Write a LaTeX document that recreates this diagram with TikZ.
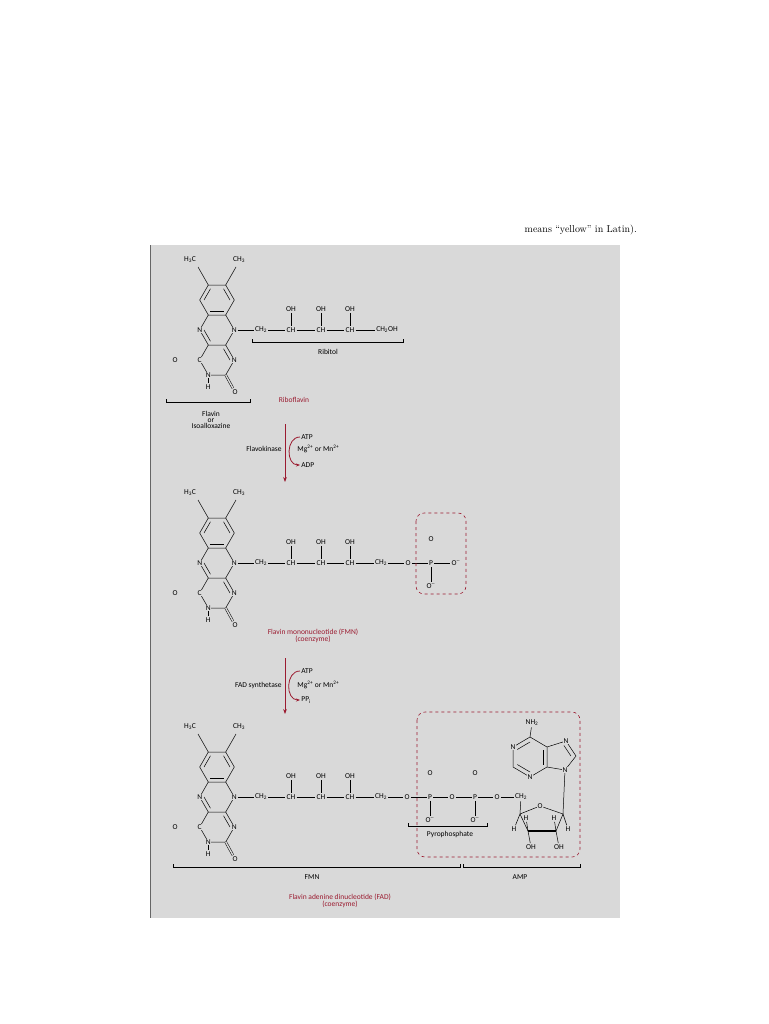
\documentclass[tikz,border=0pt]{standalone}
\usepackage{fontspec}
\newfontfamily\labfont{Carlito}
\usetikzlibrary{calc,arrows.meta}
\definecolor{panel}{HTML}{D9D9D9}
\definecolor{dred}{HTML}{9B1B30}
\tikzset{
 lab/.style={font=\labfont\fontsize{7.5}{8}\selectfont,inner sep=1.2pt},
 atom/.style={lab,fill=panel,inner sep=0.6pt},
 redlab/.style={lab,text=dred},
 bd/.style={line width=0.5pt},
 dbl/.style={line width=0.5pt,double=panel,double distance=1.4pt},
 brk/.style={line width=0.5pt},
 rbox/.style={draw=dred,dashed,rounded corners=8pt,line width=0.6pt},
 rarr/.style={draw=dred,line width=0.8pt,-{Stealth[length=5pt]}},
}
\newcommand{\flavinring}[3]{%
\begin{scope}[shift={(#2,#3)}]
 \coordinate (#1a1) at (-8.7,-15); \coordinate (#1a2) at (8.7,-15);
 \coordinate (#1a3) at (17.3,0); \coordinate (#1a4) at (8.7,15);
 \coordinate (#1a5) at (-8.7,15); \coordinate (#1a6) at (-17.3,0);
 \coordinate (#1b6) at (-17.3,30); \coordinate (#1b3) at (17.3,30);
 \coordinate (#1b5) at (-8.7,45); \coordinate (#1b4) at (8.7,45);
 \coordinate (#1c6) at (-17.3,60); \coordinate (#1c3) at (17.3,60);
 \coordinate (#1c5) at (-8.7,75); \coordinate (#1c4) at (8.7,75);
 \coordinate (#1o1) at (0,0); \coordinate (#1o2) at (0,30); \coordinate (#1o3) at (0,60);
 \draw[bd] (#1a1)--(#1a2)--(#1a3)--(#1a4)--(#1a5)--(#1a6)--cycle;
 \draw[bd] (#1a4)--(#1b3)--(#1b4)--(#1b5)--(#1b6)--(#1a5);
 \draw[bd] (#1b4)--(#1c3)--(#1c4)--(#1c5)--(#1c6)--(#1b5);
 \foreach \p/\q/\o in {a6/a1/o1,a2/a3/o1,a4/a5/o1,b6/b5/o2,b4/c3/o3}
   \draw[bd] ($(#1\o)!0.75!(#1\p)$)--($(#1\o)!0.75!(#1\q)$);
 \draw[bd] (#1a1)--(-19,-33); \draw[bd] (#1a2)--(19,-33);
 \node[lab] (#1me1) at (-27,-40) {H\textsubscript{3}C};
 \node[lab] (#1me2) at (22,-40) {CH\textsubscript{3}};
 \node[atom] (#1nl) at (#1b6) {N};
 \node[atom] (#1N) at (#1b3) {N};
 \node[atom] (#1n1) at (#1c3) {N};
 \node[atom] (#1cc) at (#1c6) {C};
 \node[atom] (#1nh) at (#1c5) {N};
 \node[lab] (#1h) at (-8.7,87) {H};
 \node[lab] (#1o6) at (-42,60) {O};
 \node[lab] (#1o4) at (18,92) {O};
 \draw[bd] (#1nh)--(#1h);
 \draw[dbl] (#1cc)--(#1o6);
 \draw[dbl] (#1c4)--(#1o4);
\end{scope}}
\newcommand{\ribitol}[2]{% prefix, row y
 \node[lab] (#1c1) at (261,#2) {CH\textsubscript{2}};
 \node[lab] (#1c2) at (291,#2) {CH};
 \node[lab] (#1c3) at (321,#2) {CH};
 \node[lab] (#1c4) at (350,#2) {CH};
 \node[lab] (#1h2) at (291,#2-21) {OH};
 \node[lab] (#1h3) at (321,#2-21) {OH};
 \node[lab] (#1h4) at (350,#2-21) {OH};
 \draw[bd] (#1N)--(#1c1)--(#1c2)--(#1c3)--(#1c4);
 \foreach \i in {2,3,4} \draw[bd] (#1h\i)--(#1c\i);}
\begin{document}
\begin{tikzpicture}[x=1pt,y=-1pt]
\useasboundingbox (0,0) rectangle (768,1024);
\fill[white] (0,0) rectangle (768,1024);
\node[anchor=east,inner sep=0,font=\fontsize{10}{12}\selectfont] (intro) at (637,230) {means ``yellow'' in Latin).};
\fill[panel] (150,245) rectangle (620,918);
\draw[black!60,line width=0.6pt] (150.3,245) -- (150.3,918);
% ---------- Riboflavin
\flavinring{r}{217}{300}
\ribitol{r}{330}
\node[lab] (rc5) at (387,330) {CH\textsubscript{2}OH};
\draw[bd] (rc4)--(rc5);
\draw[brk] (252,339)--(252,342)--(403,342)--(403,339);
\node[lab] (ribitol) at (328,352) {Ribitol};
\draw[brk] (166,399)--(166,402)--(250,402)--(250,399);
\node[lab,align=center] (flavin) at (211,420) {Flavin\\[-2pt]or\\[-2pt]Isoalloxazine};
\node[redlab] (riboflavin) at (294,400) {Riboflavin};
% ---------- arrow 1
\coordinate (a1s) at (285,424); \coordinate (a1e) at (285,482);
\draw[rarr] (a1s)--(a1e);
\node[lab,anchor=west] (atp1) at (300,437) {ATP};
\node[lab,anchor=west] (mg1) at (296,449) {Mg\textsuperscript{2+} or Mn\textsuperscript{2+}};
\node[lab,anchor=west] (adp1) at (300,465) {ADP};
\node[lab,anchor=east] (fk) at (283,449) {Flavokinase};
\draw[draw=dred,line width=0.8pt,-{Stealth[length=4pt]}] (atp1.west) to[out=180,in=180,looseness=1.3] (adp1.west);
% ---------- FMN
\flavinring{m}{217}{533}
\ribitol{m}{563}
\node[lab] (mc5) at (381,563) {CH\textsubscript{2}};
\node[lab] (mo) at (408,563) {O};
\node[lab] (mp) at (431,563) {P};
\node[lab] (mom) at (456,563) {O\textsuperscript{--}};
\node[lab] (mou) at (431,539) {O};
\node[lab] (mod) at (431,586) {O\textsuperscript{--}};
\draw[bd] (mc4)--(mc5)--(mo)--(mp)--(mom);
\draw[dbl] (mp)--(mou); \draw[bd] (mp)--(mod);
\draw[rbox] (416,513) rectangle (466,594);
\node[redlab,align=center] (fmnlab) at (313,636) {Flavin mononucleotide (FMN)\\[-1pt](coenzyme)};
% ---------- arrow 2
\coordinate (a2s) at (285,658); \coordinate (a2e) at (285,714);
\draw[rarr] (a2s)--(a2e);
\node[lab,anchor=west] (atp2) at (300,671) {ATP};
\node[lab,anchor=west] (mg2) at (296,685) {Mg\textsuperscript{2+} or Mn\textsuperscript{2+}};
\node[lab,anchor=west] (ppi) at (300,700) {PP\textsubscript{i}};
\node[lab,anchor=east] (fs) at (283,685) {FAD synthetase};
\draw[draw=dred,line width=0.8pt,-{Stealth[length=4pt]}] (atp2.west) to[out=180,in=180,looseness=1.3] (ppi.west);
% ---------- FAD
\flavinring{f}{217}{767}
\ribitol{f}{797}
\node[lab] (fc5) at (381,797) {CH\textsubscript{2}};
\node[lab] (fo1) at (407,797) {O};
\node[lab] (fp1) at (430,797) {P};
\node[lab] (fo2) at (452,797) {O};
\node[lab] (fp2) at (475,797) {P};
\node[lab] (fo3) at (497,797) {O};
\node[lab] (fch) at (521,797) {CH\textsubscript{2}};
\node[lab] (fu1) at (430,773) {O};
\node[lab] (fu2) at (475,773) {O};
\node[lab] (fd1) at (430,820) {O\textsuperscript{--}};
\node[lab] (fd2) at (475,820) {O\textsuperscript{--}};
\draw[bd] (fc4)--(fc5)--(fo1)--(fp1)--(fo2)--(fp2)--(fo3)--(fch);
\draw[dbl] (fp1)--(fu1); \draw[dbl] (fp2)--(fu2);
\draw[bd] (fp1)--(fd1); \draw[bd] (fp2)--(fd2);
\draw[brk] (408,823)--(408,826)--(487,826)--(487,823);
\node[lab] (pyro) at (450,834) {Pyrophosphate};
% ribose
\coordinate (c4r) at (520,814); \node[atom] (or) at (540,806) {O};
\coordinate (c1r) at (563,814); \coordinate (c2r) at (556,831); \coordinate (c3r) at (528,831);
\draw[bd] (fch)--(c4r);
\draw[bd] (c4r)--(or)--(c1r);
\draw[bd] (c1r)--(c2r); \draw[bd] (c3r)--(c4r);
\draw[line width=1.4pt] (c3r)--(c2r);
\node[lab] (h4) at (514,829) {H}; \draw[bd] (c4r)--(h4);
\node[lab] (h1) at (568,829) {H}; \draw[bd] (c1r)--(h1);
\node[lab] (h3) at (526,818) {H}; \draw[bd] (c3r)--(h3);
\node[lab] (h2) at (554,818) {H}; \draw[bd] (c2r)--(h2);
\node[lab] (oh3) at (531,847) {OH}; \draw[bd] (c3r)--(oh3);
\node[lab] (oh2) at (559,847) {OH}; \draw[bd] (c2r)--(oh2);
% adenine
\coordinate (ac6) at (530,737); \coordinate (ac2) at (513,767);
\coordinate (ac4) at (547,767); \coordinate (ac5) at (547,747);
\coordinate (ac8) at (576,756);
\coordinate (ao6) at (530,757); \coordinate (ao5) at (559,756);
\draw[bd] (ac6)--(513,747)--(ac2)--(530,777)--(ac4)--(ac5)--cycle;
\draw[bd] (ac5)--(566,741)--(ac8)--(565,770)--(ac4);
\draw[bd] ($(ao6)!0.75!(ac6)$)--($(ao6)!0.75!(513,747)$);
\draw[bd] ($(ao6)!0.75!(ac2)$)--($(ao6)!0.75!(530,777)$);
\draw[bd] ($(ao6)!0.75!(ac4)$)--($(ao6)!0.75!(ac5)$);
\draw[bd] ($(ao5)!0.7!(566,741)$)--($(ao5)!0.7!(ac8)$);
\node[atom] (an1) at (513,747) {N};
\node[atom] (an3) at (530,777) {N};
\node[atom] (an7) at (566,741) {N};
\node[atom] (an9) at (565,770) {N};
\node[lab] (nh2) at (532,723) {NH\textsubscript{2}};
\draw[bd] (ac6)--(nh2);
\draw[bd] (an9)--(c1r);
\draw[rbox] (417,712) rectangle (580,857);
% bottom brackets
\draw[brk] (173,864)--(173,867)--(460,867)--(460,864);
\draw[brk] (463,864)--(463,867)--(580,867)--(580,864);
\node[lab] (fmnb) at (312,877) {FMN};
\node[lab] (ampb) at (520,877) {AMP};
\node[redlab,align=center] (fadlab) at (340,901) {Flavin adenine dinucleotide (FAD)\\[-1pt](coenzyme)};
\end{tikzpicture}
\end{document}
